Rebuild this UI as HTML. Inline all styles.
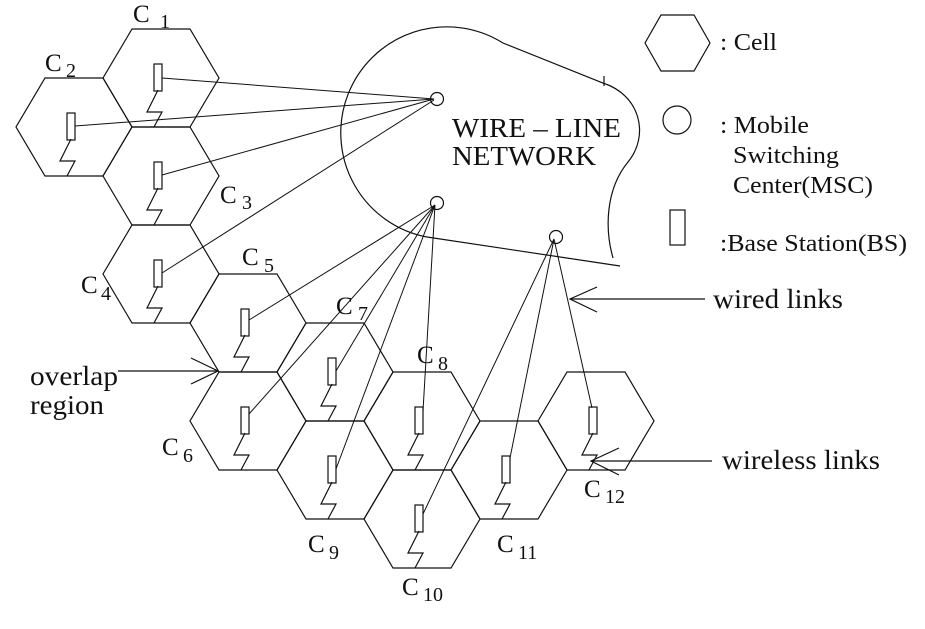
<!DOCTYPE html>
<html><head><meta charset="utf-8"><style>
html,body{margin:0;padding:0;background:#fff;}
svg{display:block;}
text{font-family:"Liberation Serif",serif;fill:#111;}
</style></head><body>
<svg width="925" height="629" viewBox="0 0 925 629" xmlns="http://www.w3.org/2000/svg">
<g fill="none" stroke="#111" stroke-width="1.2">
<polygon points="132,29 190,29 219,78 190,127 132,127 103,78"/>
<polygon points="45,78 103,78 132,127 103,176 45,176 16,127"/>
<polygon points="132,127 190,127 219,176 190,225 132,225 103,176"/>
<polygon points="132,225 190,225 219,274 190,323 132,323 103,274"/>
<polygon points="219,274 277,274 306,323 277,372 219,372 190,323"/>
<polygon points="219,372 277,372 306,421 277,470 219,470 190,421"/>
<polygon points="306,323 364,323 393,372 364,421 306,421 277,372"/>
<polygon points="393,372 451,372 480,421 451,470 393,470 364,421"/>
<polygon points="306,421 364,421 393,470 364,519 306,519 277,470"/>
<polygon points="393,470 451,470 480,519 451,568 393,568 364,519"/>
<polygon points="480,421 538,421 567,470 538,519 480,519 451,470"/>
<polygon points="567,372 625,372 654,421 625,470 567,470 538,421"/>
<g fill="#fff">
<rect x="154" y="64" width="8" height="27"/><rect x="67" y="113" width="8" height="27"/>
<rect x="154" y="162" width="8" height="27"/><rect x="154" y="260" width="8" height="27"/>
<rect x="241" y="309" width="8" height="27"/><rect x="241" y="407" width="8" height="27"/>
<rect x="328" y="358" width="8" height="27"/><rect x="415" y="407" width="8" height="27"/>
<rect x="328" y="456" width="8" height="27"/><rect x="415" y="505" width="8" height="27"/>
<rect x="502" y="456" width="8" height="27"/><rect x="589" y="407" width="8" height="27"/>
</g>
<polyline points="158,90 147,112 162,112 154,127"/>
<polyline points="71,139 60,161 75,161 67,176"/>
<polyline points="158,188 147,210 162,210 154,225"/>
<polyline points="158,286 147,308 162,308 154,323"/>
<polyline points="245,335 234,357 249,357 241,372"/>
<polyline points="245,433 234,455 249,455 241,470"/>
<polyline points="332,384 321,406 336,406 328,421"/>
<polyline points="419,433 408,455 423,455 415,470"/>
<polyline points="332,482 321,504 336,504 328,519"/>
<polyline points="419,531 408,553 423,553 415,568"/>
<polyline points="506,482 495,504 510,504 502,519"/>
<polyline points="593,433 582,455 597,455 589,470"/>
<path d="M427,237 A106,106 0 1 1 503,43 L603,83 C640,95 650,135 628,162 C605,190 605,230 613,258"/>
<line x1="427" y1="237" x2="620" y2="266"/>
<line x1="604" y1="76" x2="604" y2="86"/>
<circle cx="437" cy="99" r="6.5" fill="#fff"/>
<circle cx="437" cy="203" r="6.5" fill="#fff"/>
<circle cx="556" cy="237" r="6.5" fill="#fff"/>
<g stroke-width="1">
<line x1="162" y1="78" x2="434" y2="99"/>
<line x1="75" y1="126" x2="434" y2="99"/>
<line x1="162" y1="175" x2="434" y2="99"/>
<line x1="162" y1="273" x2="434" y2="100"/>
<line x1="249" y1="320" x2="435" y2="205"/>
<line x1="249" y1="414" x2="435" y2="205"/>
<line x1="336" y1="371" x2="435" y2="205"/>
<line x1="336" y1="469" x2="435" y2="205"/>
<line x1="423" y1="411" x2="435" y2="205"/>
<line x1="423" y1="514" x2="554" y2="239"/>
<line x1="510" y1="458" x2="554" y2="239"/>
<line x1="592" y1="408" x2="554" y2="239"/>
</g>
<line x1="118" y1="371" x2="218" y2="371"/><polyline points="191,358 218,371 191,384"/>
<line x1="570" y1="299" x2="705" y2="299"/><polyline points="597,287 570,299 597,312"/>
<line x1="591" y1="461" x2="712" y2="461"/><polyline points="619,448 591,461 619,475"/>
<polygon points="661,15 694,15 710,43 694,71 661,71 645,43"/>
<circle cx="677" cy="120" r="14"/>
<rect x="670" y="210" width="15" height="35"/>
</g>
<g font-size="25">
<text x="133" y="22">C</text><text x="160" y="28" font-size="20">1</text>
<text x="45" y="71">C</text><text x="66" y="77" font-size="20">2</text>
<text x="220" y="203">C</text><text x="242" y="209" font-size="20">3</text>
<text x="81" y="293">C</text><text x="101" y="300" font-size="20">4</text>
<text x="242" y="265">C</text><text x="264" y="272" font-size="20">5</text>
<text x="162" y="455">C</text><text x="183" y="462" font-size="20">6</text>
<text x="336" y="314">C</text><text x="358" y="320" font-size="20">7</text>
<text x="417" y="363">C</text><text x="438" y="370" font-size="20">8</text>
<text x="308" y="552">C</text><text x="329" y="559" font-size="20">9</text>
<text x="402" y="595">C</text><text x="423" y="601" font-size="20">10</text>
<text x="497" y="552">C</text><text x="518" y="559" font-size="20">11</text>
<text x="584" y="497">C</text><text x="605" y="503" font-size="20">12</text>
</g>
<g font-size="27">
<text x="452" y="137" textLength="169" lengthAdjust="spacingAndGlyphs">WIRE – LINE</text>
<text x="452" y="165" textLength="144" lengthAdjust="spacingAndGlyphs">NETWORK</text>
</g>
<g font-size="24">
<text x="720" y="50" textLength="57" lengthAdjust="spacingAndGlyphs">: Cell</text>
<text x="720" y="133" textLength="89" lengthAdjust="spacingAndGlyphs">: Mobile</text>
<text x="733" y="163" textLength="106" lengthAdjust="spacingAndGlyphs">Switching</text>
<text x="733" y="193" textLength="140" lengthAdjust="spacingAndGlyphs">Center(MSC)</text>
<text x="720" y="251" textLength="187" lengthAdjust="spacingAndGlyphs">:Base Station(BS)</text>
</g>
<g font-size="27">
<text x="713" y="308" textLength="130" lengthAdjust="spacingAndGlyphs">wired links</text>
<text x="722" y="469" textLength="158" lengthAdjust="spacingAndGlyphs">wireless links</text>
<text x="30" y="385" textLength="88" lengthAdjust="spacingAndGlyphs">overlap</text>
<text x="30" y="414" textLength="74" lengthAdjust="spacingAndGlyphs">region</text>
</g>
</svg>
</body></html>
